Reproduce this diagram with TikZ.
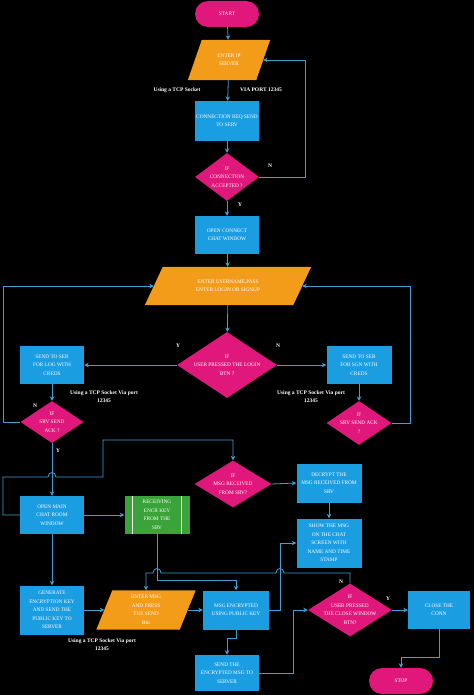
\documentclass[tikz,border=0pt]{standalone}
\usepackage{fontspec}
\setmainfont{Liberation Serif}
\usetikzlibrary{shapes.geometric,arrows.meta,backgrounds,calc}
\definecolor{cmag}{HTML}{E0187B}
\definecolor{corange}{HTML}{F39C1A}
\definecolor{cblue}{HTML}{1B9DE2}
\definecolor{cgreen}{HTML}{3AA33A}
\definecolor{cline}{HTML}{419FD4}
\newcommand\boxfont{\fontsize{5.3}{8.5}\selectfont}
\newcommand\notefont{\fontsize{5.5}{8}\selectfont\bfseries}
\newcommand\parafill[2]{%
  \begin{scope}[on background layer]
    \fill[corange] ($(#1.south west)+(-#2,0)$) -- ($(#1.north west)+(#2,0)$)
      -- ($(#1.north east)+(#2,0)$) -- ($(#1.south east)+(-#2,0)$) -- cycle;
  \end{scope}}
\begin{document}
\begin{tikzpicture}[x=1pt,y=-1pt,
  box/.style={rectangle,fill=cblue,text=white,align=center,inner sep=0pt,font=\boxfont},
  grn/.style={rectangle,fill=cgreen,text=white,align=center,inner sep=0pt,font=\boxfont},
  term/.style={rectangle,rounded corners=13pt,fill=cmag,text=white,align=center,inner sep=0pt,font=\boxfont,minimum width=64pt,minimum height=26pt},
  para/.style={rectangle,text=white,align=center,inner sep=0pt,font=\boxfont},
  dia/.style={diamond,fill=cmag,inner sep=0pt},
  lab/.style={text=white,align=center,font=\boxfont,inner sep=0pt},
  note/.style={text=white,align=center,font=\notefont,inner sep=0pt},
  yn/.style={text=white,font=\notefont,inner sep=0pt},
  conn/.style={draw=cline,line width=0.8pt},
  arr/.style={conn,-{Stealth[length=4.5pt,width=4.5pt]}}]

\begin{scope}[on background layer]
  \fill[black] (0,0) rectangle (474,695);
\end{scope}

% nodes
\node[term] (start) at (227,14) {START};
\node[para,minimum width=68pt,minimum height=40pt] (ip) at (229,60) {ENTER IP\\SERVER};
\parafill{ip}{7}
\node[box,minimum width=64pt,minimum height=40pt] (req) at (227,121) {CONNECTION REQ SEND\\TO SERV};
\node[dia,minimum width=64pt,minimum height=48pt,label={[lab]center:{IF\\CONNECTION\\ACCEPTED ?}}] (acc) at (227,177) {};
\node[box,minimum width=64pt,minimum height=38pt] (open) at (227,235) {OPEN CONNECT\\CHAT WINDOW};
\node[para,minimum width=148pt,minimum height=38pt] (user) at (228,286) {ENTER USERNAME,PASS\\ENTER LOGIN OR SIGNUP};
\parafill{user}{9}
\node[dia,minimum width=100pt,minimum height=66pt,label={[lab]center:{IF\\USER PRESSED THE LOGIN\\BTN ?}}] (login) at (227,365) {};
\node[box,minimum width=64pt,minimum height=38pt] (logbox) at (52,365) {SEND TO SER\\FOR LOG WITH\\CREDS};
\node[box,minimum width=65pt,minimum height=38pt] (signbox) at (359,365) {SEND TO SER\\FOR SGN WITH\\CREDS};
\node[dia,minimum width=63pt,minimum height=42pt,label={[lab]center:{IF\\SRV SEND\\ACK ?}}] (ackL) at (52,422) {};
\node[dia,minimum width=65pt,minimum height=44pt,label={[lab]center:{IF\\SRV SEND ACK\\?}}] (ackR) at (359,423) {};
\node[box,minimum width=64pt,minimum height=38pt] (main) at (52,515) {OPEN MAIN\\CHAT ROOM\\WINDOW};
\node[grn,minimum width=65pt,minimum height=38pt] (recv) at (157,515) {RECEIVING\\ENCR KEY\\FROM THE\\SRV};
\draw[white,line width=0.5pt] ([xshift=8pt]recv.north west) -- ([xshift=8pt]recv.south west);
\draw[white,line width=0.5pt] ([xshift=-8pt]recv.north east) -- ([xshift=-8pt]recv.south east);
\node[dia,minimum width=77pt,minimum height=47pt,label={[lab]center:{IF\\MSG RECEIVED\\FROM SRV?}}] (msg) at (233,484) {};
\node[box,minimum width=65pt,minimum height=39pt] (dec) at (329,483) {DECRYPT THE\\MSG RECEIVED FROM\\SRV};
\node[box,minimum width=65pt,minimum height=49pt] (show) at (329,543) {SHOW THE MSG\\ON THE CHAT\\SCREEN WITH\\NAME AND TIME\\STAMP};
\node[box,minimum width=64pt,minimum height=49pt] (gen) at (52,610) {GENERATE\\ENCRYPTION KEY\\AND SEND THE\\PUBLIC KEY TO\\SERVER};
\node[para,minimum width=83pt,minimum height=39pt] (entmsg) at (146,610) {ENTER MSG\\AND PRESS\\THE SEND\\Btn};
\parafill{entmsg}{8}
\node[box,minimum width=66pt,minimum height=39pt] (enc) at (236,610) {MSG ENCRYPTED\\USING PUBLIC KEY};
\node[box,minimum width=64pt,minimum height=36pt] (send) at (227,673) {SEND THE\\ENCRYPTED MSG TO\\SERVER};
\node[dia,minimum width=84pt,minimum height=53pt,label={[lab]center:{IF\\USER PRESSED\\THE CLOSE WINDOW\\BTN?}}] (close) at (350,610) {};
\node[box,minimum width=62pt,minimum height=38pt] (closeconn) at (439,610) {CLOSE THE\\CONN};
\node[term] (stop) at (401,681) {STOP};

% notes
\node[note] (n1) at (177,90) {Using a TCP Socket};
\node[note] (n2) at (261,90) {VIA PORT 12345};
\node[note] (n3) at (104,397) {Using a TCP Socket Via port\\12345};
\node[note] (n4) at (311,397) {Using a TCP Socket Via port\\12345};
\node[note] (n5) at (102,645) {Using a TCP Socket Via port\\12345};

% Y/N labels
\node[yn] (l1) at (270,166) {N};
\node[yn] (l2) at (240,205) {Y};
\node[yn] (l3) at (178,346) {Y};
\node[yn] (l4) at (278,346) {N};
\node[yn] (l5) at (35,406) {N};
\node[yn] (l6) at (58,451) {Y};
\node[yn] (l7) at (341,582) {N};
\node[yn] (l8) at (388,599) {Y};

% connectors
\coordinate (cA) at (305,177);
\coordinate (cL) at (3,422);
\coordinate (cR) at (410,423);
\draw[arr] (start) -- (ip);
\draw[arr] (ip) -- (req);
\draw[arr] (req) -- (acc);
\draw[arr] (acc.east) -- (cA) |- (ip.east);
\draw[arr] (acc) -- (open);
\draw[arr] (open) -- (user);
\draw[arr] (user) -- (login);
\draw[arr] (login.west) -- (logbox.east);
\draw[arr] (login.east) -- (signbox.west);
\draw[arr] (logbox) -- (ackL);
\draw[arr] (signbox) -- (ackR);
\draw[arr] (ackL.west) -- (cL) |- (user.west);
\draw[arr] (ackR.east) -- (cR) |- (user.east);
\draw[arr] (ackL.south) -- (main.north);
\draw[arr] (main.east) -- (recv.west);
\draw[arr] (main.west) -- (3,515) -- (3,477) -- (48,477)
   .. controls (48,471) and (56,471) .. (56,477) -- (103,477) -- (103,440) -| (msg.north);
\draw[arr] (msg.east) -- (dec.west);
\draw[arr] (dec) -- (show);
\draw[arr] (main) -- (gen);
\draw[arr] (gen.east) -- (entmsg.west);
\draw[arr] (entmsg.east) -- (enc.west);
\draw[arr] (recv.south) -- (157,580) -| (enc.north);
\draw[arr] (close.north) -- (350,573) -- (284,573)
   .. controls (284,567) and (276,567) .. (276,573) -- (161,573)
   .. controls (161,567) and (153,567) .. (153,573) -- (146,573) -- (entmsg.north);
\draw[arr] (enc.east) -- (280,610) |- (show.west);
\draw[arr] (enc.south) -- ++(0,9) -| (send.north);
\draw[arr] (send.east) -- (293,673) |- (close.west);
\draw[arr] (close.east) -- (closeconn.west);
\draw[arr] (closeconn.south) -- (439,657) -| (stop.north);
\end{tikzpicture}
\end{document}
